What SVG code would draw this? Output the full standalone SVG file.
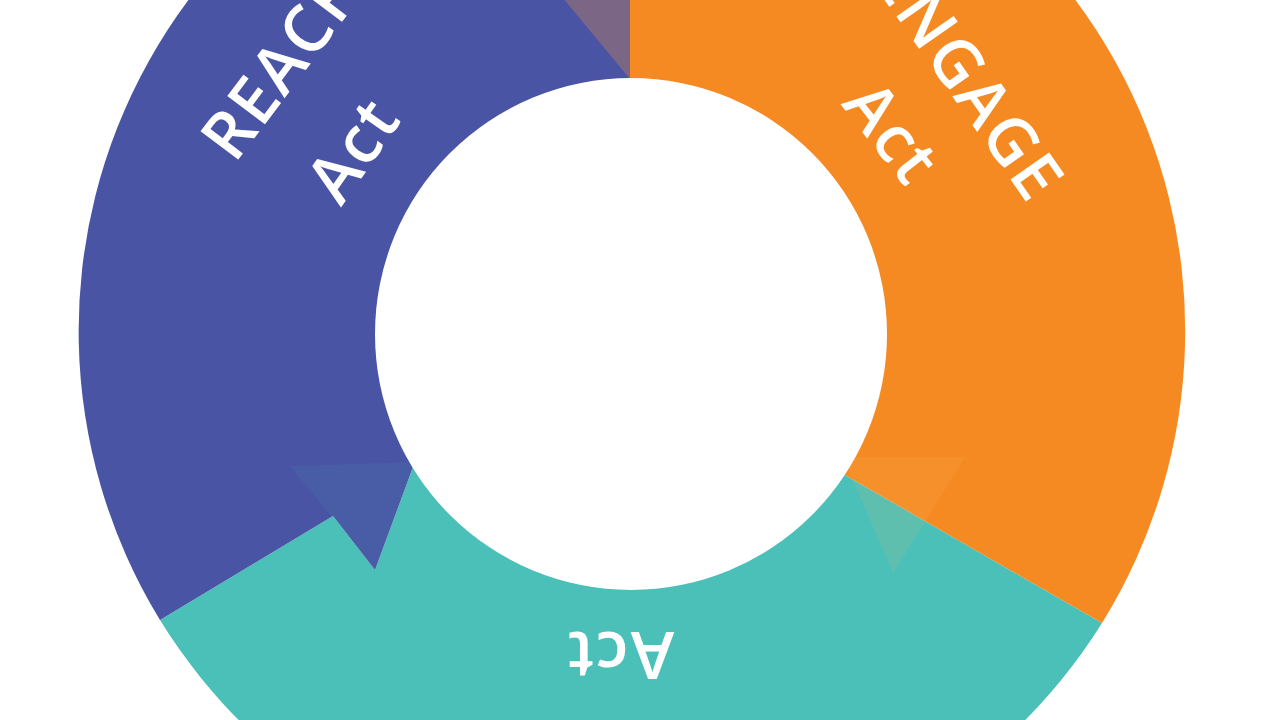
<svg xmlns="http://www.w3.org/2000/svg" width="1280" height="720" viewBox="0 0 1280 720">
  <style>
    .lbl { font-family: "Open Sans", "Liberation Sans", sans-serif; font-weight: 600; fill: #ffffff; text-anchor: middle; letter-spacing: 2px; }
    .big { font-size: 66px; }
  </style>
  <rect width="1280" height="720" fill="#ffffff"/>
  <g id="segment-act">
    <path d="M 160,620 A 554 554 0 0 0 1102,623 L 845,475 L 631,334 L 413,467 L 375,570 L 333,516 Z" fill="#4bc0b8"/>
    <text class="lbl big" transform="translate(620,632) rotate(180)">Act</text>
  </g>
  <g id="segment-reach">
    <path d="M 630,334 L 630,-223 A 554 554 0 0 0 160,620 L 333,516 L 375,570 L 413,467 Z" fill="#4954a5"/>
    <text class="lbl big" transform="translate(302,75) rotate(-53)">REACH</text>
    <text class="lbl big" transform="translate(372,163) rotate(-55)">Act</text>
  </g>
  <g id="segment-engage">
    <path d="M 630,334 L 630,-223 A 554 554 0 0 1 1102,623 L 845,475 Z" fill="#f68a22"/>
    <text class="lbl big" transform="translate(950,93) rotate(55)">ENGAGE</text>
    <text class="lbl big" transform="translate(874,147) rotate(52)">Act</text>
  </g>
  <g id="connectors">
    <polygon points="290,466 415,462 375,570" fill="#4bc0b8" opacity="0.08"/>
    <polygon points="843,457 965,457 893,573" fill="#f5c070" opacity="0.12"/>
    <polygon points="548,-20 630,-20 630,79" fill="#7c6686"/>
  </g>
  <circle id="hub" cx="631" cy="334" r="256" fill="#ffffff"/>
</svg>
